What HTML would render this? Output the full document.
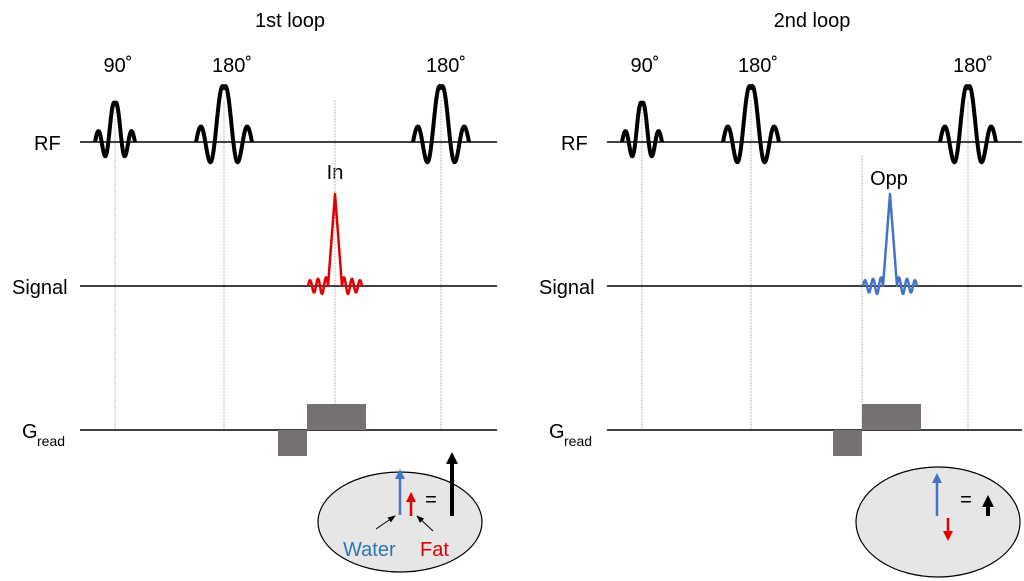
<!DOCTYPE html>
<html><head><meta charset="utf-8"><style>
html,body{margin:0;padding:0;background:#fff;}
svg{display:block;font-family:"Liberation Sans",sans-serif;}
</style></head><body>
<svg id="s" width="1024" height="581" viewBox="0 0 1024 581" xmlns="http://www.w3.org/2000/svg">
<defs>
<marker id="ab" markerWidth="4" markerHeight="4" refX="2" refY="2" orient="auto" markerUnits="strokeWidth"><path d="M0,0 L4,2 L0,4 z" fill="#4472c4"/></marker>
<marker id="ar" markerWidth="4" markerHeight="4" refX="2" refY="2" orient="auto" markerUnits="strokeWidth"><path d="M0,0 L4,2 L0,4 z" fill="#e00000"/></marker>
<marker id="ak" markerWidth="3" markerHeight="3" refX="1.5" refY="1.5" orient="auto" markerUnits="strokeWidth"><path d="M0,0 L3,1.5 L0,3 z" fill="#000"/></marker>
<marker id="as" markerWidth="8" markerHeight="8" refX="7" refY="4" orient="auto" markerUnits="userSpaceOnUse"><path d="M0,1 L8,4 L0,7 z" fill="#000"/></marker>
</defs>
<g font-size="20" fill="#000">
<text x="290" y="27" text-anchor="middle">1st loop</text>
<text x="812" y="27" text-anchor="middle">2nd loop</text>
<text x="118" y="72" text-anchor="middle">90˚</text>
<text x="232" y="72" text-anchor="middle">180˚</text>
<text x="446" y="72" text-anchor="middle">180˚</text>
<text x="645" y="72" text-anchor="middle">90˚</text>
<text x="758" y="72" text-anchor="middle">180˚</text>
<text x="973" y="72" text-anchor="middle">180˚</text>
<text x="34" y="150">RF</text>
<text x="12" y="294">Signal</text>
<text x="22" y="438">G</text><text x="37" y="446" font-size="14">read</text>
<text x="561" y="150">RF</text>
<text x="539" y="294">Signal</text>
<text x="549" y="438">G</text><text x="564" y="446" font-size="14">read</text>
<text x="335" y="179" text-anchor="middle">In</text>
<text x="889" y="185" text-anchor="middle">Opp</text>
</g>
<g stroke="#bbb" stroke-width="1" stroke-dasharray="2,1">
<line x1="115" y1="100" x2="115" y2="430"/><line x1="224" y1="100" x2="224" y2="430"/>
<line x1="335" y1="100" x2="335" y2="430"/><line x1="441" y1="100" x2="441" y2="430"/>
<line x1="642" y1="100" x2="642" y2="430"/><line x1="751" y1="100" x2="751" y2="430"/>
<line x1="862" y1="155" x2="862" y2="430"/><line x1="968" y1="100" x2="968" y2="430"/>
</g>
<g stroke="#000" stroke-width="1.5">
<line x1="80" y1="142" x2="497" y2="142"/><line x1="80" y1="286" x2="497" y2="286"/><line x1="80" y1="430" x2="497" y2="430"/>
<line x1="607" y1="142" x2="1022" y2="142"/><line x1="607" y1="286" x2="1022" y2="286"/><line x1="607" y1="430" x2="1022" y2="430"/>
</g>
<g fill="#767171">
<rect x="307" y="404" width="59" height="26"/><rect x="278" y="430" width="29" height="26"/>
<rect x="862" y="404" width="59" height="26"/><rect x="833" y="430" width="29" height="26"/>
</g>
<g id="waves" fill="none" stroke-linejoin="round"></g>
<ellipse cx="400" cy="522" rx="82" ry="50" fill="#e6e6e6" stroke="#000" stroke-width="1.2"/>
<ellipse cx="938" cy="522" rx="82" ry="55" fill="#e6e6e6" stroke="#000" stroke-width="1.2"/>
<line x1="400" y1="515" x2="400" y2="474" stroke="#4472c4" stroke-width="2.5" marker-end="url(#ab)"/>
<line x1="411" y1="516" x2="411" y2="497" stroke="#e00000" stroke-width="2.5" marker-end="url(#ar)"/>
<text x="431" y="506" font-size="20" text-anchor="middle">=</text>
<line x1="452" y1="516" x2="452" y2="458" stroke="#000" stroke-width="4" marker-end="url(#ak)"/>
<line x1="376" y1="529" x2="395" y2="516" stroke="#000" stroke-width="1" marker-end="url(#as)"/>
<line x1="433" y1="531" x2="417" y2="516" stroke="#000" stroke-width="1" marker-end="url(#as)"/>
<text x="343" y="556" font-size="20" fill="#2e75b6">Water</text>
<text x="420" y="556" font-size="20" fill="#e00000">Fat</text>
<line x1="937" y1="516" x2="937" y2="478" stroke="#4472c4" stroke-width="2.5" marker-end="url(#ab)"/>
<line x1="948" y1="518" x2="948" y2="536" stroke="#e00000" stroke-width="2.5" marker-end="url(#ar)"/>
<text x="966" y="506" font-size="20" text-anchor="middle">=</text>
<line x1="988" y1="516" x2="988" y2="501" stroke="#000" stroke-width="4" marker-end="url(#ak)"/>
</svg>
<script>
(function(){
var g=document.getElementById('waves'),ns='http://www.w3.org/2000/svg';
function add(d,c,w){var p=document.createElementNS(ns,'path');p.setAttribute('d',d);p.setAttribute('stroke',c);p.setAttribute('stroke-width',w);g.appendChild(p);}
function rf(cx,half,amp){var d='';for(var i=0;i<=120;i++){var t=-3+6*i/120;var s=Math.abs(t)<1e-6?1:Math.sin(Math.PI*t)/(Math.PI*t);var f=s*(1+Math.abs(t)*0.5);var x=cx+t*half/3,y=142-amp*f;d+=(i?'L':'M')+x.toFixed(2)+','+y.toFixed(2);}add(d,'#000',4);}
function sig(cx,c){var d='';var L=27;for(var i=0;i<=200;i++){var u=-L+2*L*i/200;var y;var a=Math.abs(u);if(a<7){y=286-92*(1-a/7);}else{var ph=(a-7)/(L-7);y=286+9*(1-ph*0.4)*Math.sin((a-7)*Math.PI/4+Math.PI);}d+=(i?'L':'M')+(cx+u).toFixed(2)+','+y.toFixed(2);}add(d,c,2.5);}
rf(115,20,38);rf(224,28,54);rf(441,28,54);
rf(642,20,38);rf(751,28,54);rf(968,28,54);
sig(335,'#e00000');sig(890,'#4472c4');
})();
</script>
</body></html>
